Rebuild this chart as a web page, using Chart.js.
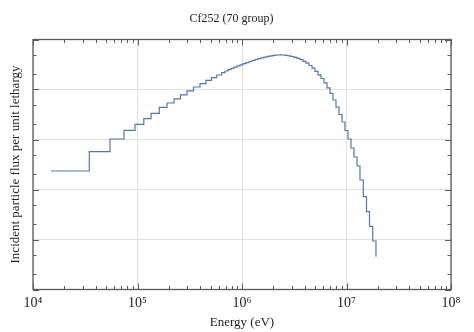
<!DOCTYPE html>
<html>
<head>
<meta charset="utf-8">
<script src="https://cdn.jsdelivr.net/npm/chart.js@4"></script>
<style>
  body { margin: 0; background: #fff; }
  #wrap { width: 474px; height: 332px; }
</style>
</head>
<body>
<div id="wrap"><canvas id="spectrum" width="474" height="332"></canvas></div>
<script>
// lower group energies (eV) where each step starts
const energy = [14860, 34580, 54550, 74280, 94650, 114900, 134700, 161700, 191600, 223600,
  257900, 297700, 343500, 396400, 452300, 510700, 574100, 640800, 687600, 734500,
  784800, 838400, 895700, 956900, 1.022e6, 1.092e6, 1.167e6, 1.246e6, 1.332e6, 1.423e6,
  1.520e6, 1.624e6, 1.735e6, 1.853e6, 1.980e6, 2.115e6, 2.260e6, 2.414e6, 2.579e6, 2.755e6,
  2.944e6, 3.145e6, 3.360e6, 3.589e6, 3.834e6, 4.096e6, 4.376e6, 4.675e6, 4.994e6, 5.336e6,
  5.700e6, 6.090e6, 6.506e6, 6.950e6, 7.425e6, 7.932e6, 8.474e6, 9.053e6, 9.672e6, 1.033e7,
  1.104e7, 1.179e7, 1.260e7, 1.346e7, 1.448e7, 1.554e7, 1.660e7, 1.781e7, 1.915e7];

// flux per unit lethargy (arbitrary units, axis has no labels)
const flux = [2.344e-3, 5.70e-3, 1.023e-2, 1.528e-2, 2.014e-2, 2.606e-2, 3.342e-2, 4.406e-2, 5.370e-2, 6.516e-2,
  7.834e-2, 9.419e-2, 0.1122, 0.1312, 0.1528, 0.1730, 0.1950, 0.2168, 0.2344, 0.2489,
  0.2642, 0.2805, 0.2965, 0.3119, 0.3281, 0.3451, 0.3631, 0.3802, 0.3981, 0.4150,
  0.4305, 0.4446, 0.4592, 0.4721, 0.4831, 0.4898, 0.4920, 0.4898, 0.4831, 0.4721,
  0.4571, 0.4385, 0.4188, 0.3945, 0.3664, 0.3357, 0.3020, 0.2667, 0.2312, 0.1968,
  0.1660, 0.1361, 0.1081, 0.08395, 0.06166, 0.04426, 0.03162, 0.02239, 0.01514, 0.01023,
  0.006761, 0.004467, 0.002951, 1.549e-3, 7.178e-4, 3.597e-4, 1.837e-4, 9.333e-5, 4.529e-5];

const xDecades = [1e4, 1e5, 1e6, 1e7, 1e8];
const xTickLabels = ['10\u2074', '10\u2075', '10\u2076', '10\u2077', '10\u2078'];
const yDecades = [1e-5, 1e-4, 1e-3, 1e-2, 1e-1, 1];
const xMinor = [2, 3, 4, 5, 6, 7, 8, 9];
const yMinor = [2, 5];

const serif = "'Liberation Serif', 'Times New Roman', serif";
const frameColor = '#5a5a5a';

// closed frame with inward ticks on all four sides
const frameTicks = {
  id: 'frameTicks',
  afterDatasetsDraw(chart) {
    const { ctx, chartArea: a, scales: { x, y } } = chart;
    ctx.save();
    ctx.strokeStyle = frameColor;
    ctx.lineWidth = 1;
    ctx.beginPath();
    const vTick = (v, len) => {
      const px = Math.round(x.getPixelForValue(v)) + 0.5;
      ctx.moveTo(px, a.bottom); ctx.lineTo(px, a.bottom - len);
      ctx.moveTo(px, a.top); ctx.lineTo(px, a.top + len);
    };
    const hTick = (v, len) => {
      const py = Math.round(y.getPixelForValue(v)) + 0.5;
      ctx.moveTo(a.left, py); ctx.lineTo(a.left + len, py);
      ctx.moveTo(a.right, py); ctx.lineTo(a.right - len, py);
    };
    xDecades.forEach((d, i) => {
      vTick(d, 6);
      if (i < xDecades.length - 1) xMinor.forEach(m => vTick(d * m, 3.5));
    });
    yDecades.forEach((d, i) => {
      hTick(d, 6);
      if (i < yDecades.length - 1) yMinor.forEach(m => hTick(d * m, 3.5));
    });
    ctx.stroke();
    ctx.lineWidth = 1.3;
    ctx.strokeRect(a.left, a.top, a.right - a.left, a.bottom - a.top);
    ctx.restore();
  }
};

new Chart(document.getElementById('spectrum'), {
  type: 'line',
  data: {
    datasets: [{
      data: energy.map((e, i) => ({ x: e, y: flux[i] })),
      borderColor: '#4f79ad',
      borderWidth: 1.2,
      pointRadius: 0,
      stepped: true,
      fill: false
    }]
  },
  options: {
    responsive: false,
    animation: false,
    layout: { padding: { left: 0, right: 11, top: 0, bottom: 0 } },
    plugins: {
      legend: { display: false },
      tooltip: { enabled: false },
      title: {
        display: true,
        text: 'Cf252 (70 group)',
        color: '#222',
        font: { family: serif, size: 12, weight: 'normal' },
        padding: { top: 11.3, bottom: 13.8 }
      }
    },
    scales: {
      x: {
        type: 'logarithmic',
        position: 'bottom',
        min: 1e4,
        max: 1e8,
        afterBuildTicks: s => { s.ticks = xDecades.map(v => ({ value: v })); },
        afterFit: s => { s.height = 42.5; },
        ticks: {
          autoSkip: false,
          maxRotation: 0,
          padding: 5,
          color: '#222',
          font: { family: serif, size: 14 },
          callback: v => xTickLabels[xDecades.indexOf(v)]
        },
        grid: { color: '#e2e2e2', drawTicks: false },
        border: { display: false },
        title: {
          display: true,
          text: 'Energy (eV)',
          color: '#222',
          font: { family: serif, size: 13 },
          padding: { top: 0, bottom: 2 }
        }
      },
      y: {
        type: 'logarithmic',
        position: 'left',
        min: 1e-5,
        max: 1,
        afterBuildTicks: s => { s.ticks = yDecades.map(v => ({ value: v })); },
        afterFit: s => { s.width = 33; },
        ticks: { display: false },
        grid: { color: '#e2e2e2', drawTicks: false },
        border: { display: false },
        title: {
          display: true,
          text: 'Incident particle flux per unit lethargy',
          color: '#222',
          font: { family: serif, size: 13 },
          padding: { top: 8, bottom: 0 }
        }
      },
      y2: {
        type: 'linear',
        position: 'right',
        min: 0,
        max: 1,
        afterFit: s => { s.width = 12; },
        ticks: { display: false },
        grid: { display: false },
        border: { display: false }
      }
    }
  },
  plugins: [frameTicks]
});
</script>
</body>
</html>
